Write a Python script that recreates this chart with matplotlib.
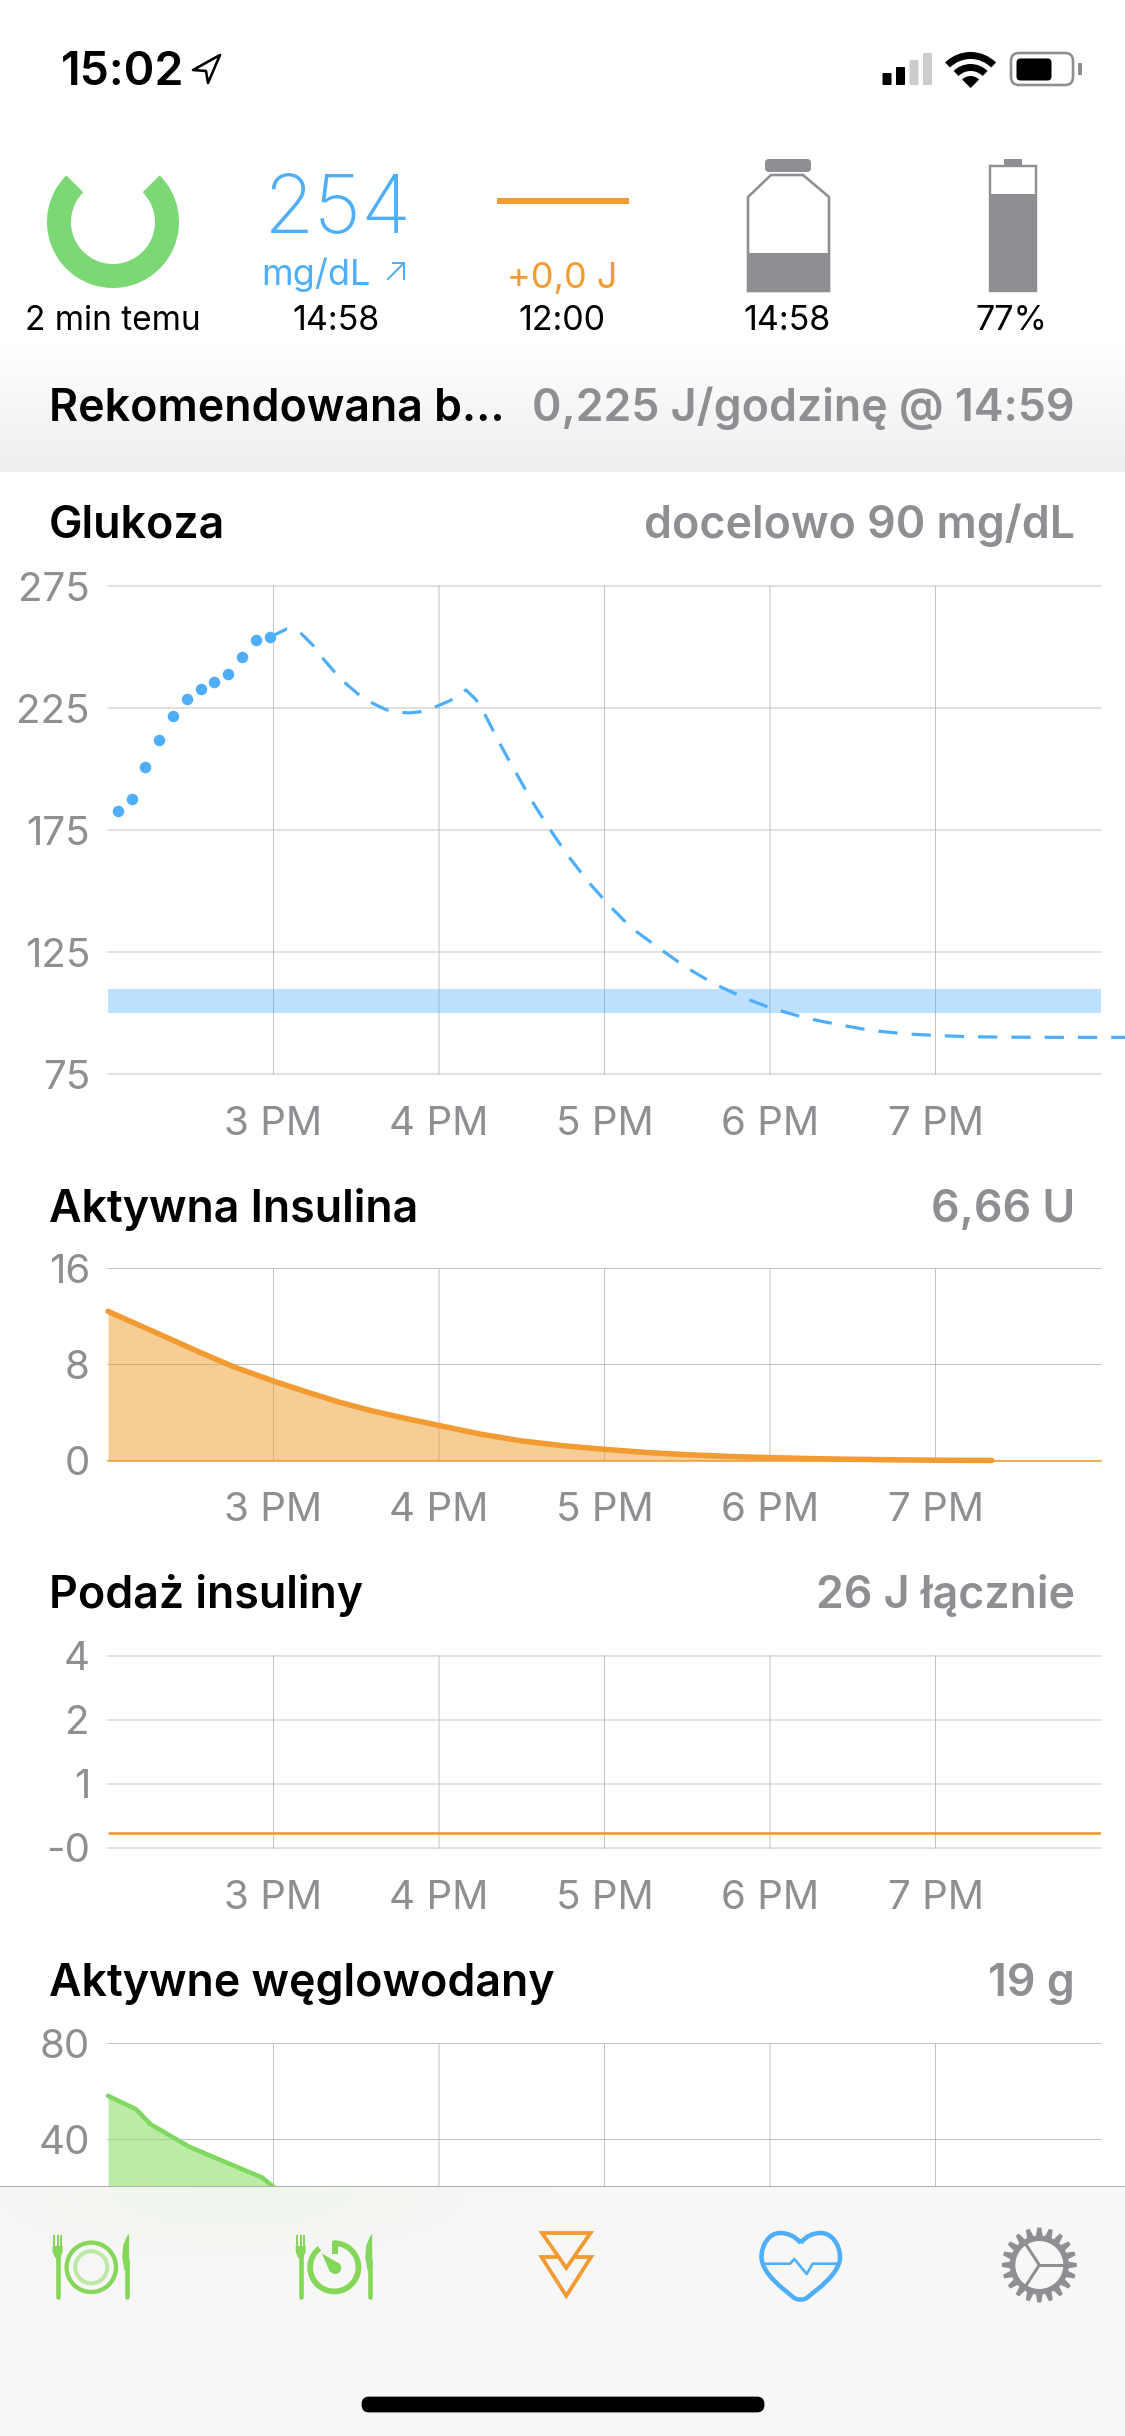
import numpy as np
import matplotlib
matplotlib.use("Agg")
import matplotlib.pyplot as plt
from matplotlib.patches import Wedge, Rectangle, FancyBboxPatch, Circle, Polygon, PathPatch
from matplotlib.path import Path

W, H = 1125, 2436
PX = 0.72  # one pixel in points at dpi 100

BLUE = "#4FAEFA"
ORANGE = "#F29B33"
GREEN = "#7FD860"
ICON_GREEN = "#85D75A"
GREY = "#8E8E93"
GRID = "#C2C2C4"
BAR = "#F7F7F7"
FONT = "Inter"

hour_ticks = [15, 16, 17, 18, 19]
hour_labels = ["3 PM", "4 PM", "5 PM", "6 PM", "7 PM"]

glucose_times = [14.059, 14.143, 14.225, 14.308, 14.393, 14.476, 14.56, 14.643, 14.725, 14.81, 14.892, 14.977]
glucose_values = [182.8, 187.7, 200.9, 211.8, 221.8, 228.7, 232.8, 235.8, 238.8, 245.8, 252.7, 254]

predicted_times = [14.977, 15.08, 15.16, 15.24, 15.29, 15.366, 15.42, 15.51, 15.58, 15.68, 15.764, 15.825, 15.88,
                   15.96, 16.066, 16.163, 16.224, 16.268, 16.32, 16.358, 16.413, 16.555, 16.663, 16.77, 16.9,
                   17.03, 17.16, 17.335, 17.486, 17.66, 17.855, 18.006, 18.224, 18.417, 18.614, 18.83, 19.0,
                   19.2, 19.414, 19.76, 20.145]
predicted_values = [254, 257.4, 256, 250.6, 246, 240, 236, 230.8, 227.6, 224.3, 223.2, 223, 223.4,
                    224.9, 228, 232.4, 228.4, 223.6, 216.7, 211.6, 204.8, 187.6, 176, 165.3, 153.9,
                    144, 135, 126.3, 119, 112, 105.9, 102, 97.8, 95.2, 92.8, 91.4, 90.8,
                    90.3, 90.1, 90, 90]
target_low, target_high = 100, 110

iob_times = [14.0, 14.153, 14.354, 14.556, 14.757, 15.0, 15.2, 15.4, 15.6, 15.8, 16.0, 16.25, 16.5, 16.75, 17.0,
             17.25, 17.5, 17.75, 18.0, 18.25, 18.5, 19.0, 19.34]
iob_values = [12.43, 11.49, 10.26, 9.01, 7.82, 6.62, 5.71, 4.85, 4.12, 3.5, 2.92, 2.2, 1.63, 1.23, 0.93,
              0.67, 0.48, 0.34, 0.24, 0.16, 0.1, 0.02, 0.0]

basal_times = [14.0, 20.0]
basal_values = [0.225, 0.225]
basal_ticks = [0, 0.93, 1.86, 2.79]
basal_labels = ["-0", "1", "2", "4"]

cob_times = [14.0, 14.17, 14.256, 14.49, 14.73, 14.93, 15.0, 15.03]
cob_values = [58.2, 52.6, 46.4, 37, 30, 24.2, 20.3, 19]

plt.rcParams["font.family"] = [FONT, "DejaVu Sans"]
fig = plt.figure(figsize=(W / 100, H / 100), dpi=100, facecolor="white")


def chart(top, bottom, ylim, yticks, ylabels):
    ax = fig.add_axes([108 / W, 1 - bottom / H, 993 / W, (bottom - top) / H])
    ax.set_xlim(14, 20)
    ax.set_ylim(*ylim)
    ax.set_xticks(hour_ticks)
    ax.set_xticklabels(hour_labels)
    ax.set_yticks(yticks)
    ax.set_yticklabels(ylabels)
    ax.tick_params(length=0, labelsize=29, labelcolor=GREY)
    ax.tick_params(axis="x", pad=23)
    ax.tick_params(axis="y", pad=13)
    for s in ax.spines.values():
        s.set_visible(False)
    ax.set_axisbelow(True)
    ax.grid(True, color=GRID, linewidth=1 * PX)
    for g in ax.get_xgridlines() + ax.get_ygridlines():
        g.set_snap(False)
        g.set_clip_on(False)
    return ax


# Glucose
ax1 = chart(586, 1074, (75, 275), [75, 125, 175, 225, 275], ["75", "125", "175", "225", "275"])
ax1.axhspan(target_low, target_high, color=BLUE, alpha=0.38, linewidth=0, zorder=1)
ax1.plot(predicted_times, predicted_values, color=BLUE, lw=3.2 * PX, linestyle=(0, (6, 4.4)), clip_on=False, zorder=2)
ax1.plot(glucose_times, glucose_values, "o", color=BLUE, ms=11.5 * PX, mew=0, zorder=3)

# Insulin on board
ax2 = chart(1268.5, 1460.5, (0, 16), [0, 8, 16], ["0", "8", "16"])
ax2.axhline(0, color=ORANGE, lw=1.5 * PX, clip_on=False, zorder=2)
ax2.fill_between(iob_times, iob_values, 0, color="#EE9F2C", alpha=0.5, linewidth=0, zorder=1)
ax2.plot(iob_times, iob_values, color=ORANGE, lw=5.5 * PX, solid_capstyle="round", clip_on=False, zorder=3)

# Insulin delivery
ax3 = chart(1656, 1848, (0, 2.79), basal_ticks, basal_labels)
ax3.plot(basal_times, basal_values, color=ORANGE, lw=2.6 * PX, solid_capstyle="butt", zorder=3)

# Carbs on board, the tab bar covers its lower part
ax4 = chart(2043.5, 2235.5, (0, 80), [0, 40, 80], ["0", "40", "80"])
ax4.fill_between(cob_times, cob_values, 0, color="#8BDD62", alpha=0.58, linewidth=0, zorder=1)
ax4.plot(cob_times, cob_values, color=GREEN, lw=4.5 * PX, solid_capstyle="round", clip_on=False, zorder=3)

# Everything around the charts, in pixel coordinates
ui = fig.add_axes([0, 0, 1, 1], zorder=10)
ui.patch.set_visible(False)
ui.axis("off")

grad = np.linspace(1, 0, 128).reshape(-1, 1) * 17 + 238
grad = np.dstack([grad, grad, grad + 1]).clip(0, 255).astype(np.uint8)
ui.imshow(grad, extent=(0, W, 472, 345), aspect="auto", zorder=0)
ui.set_xlim(0, W)
ui.set_ylim(H, 0)


def label(x, y, s, size, color="black", weight="normal", ha="center", **kw):
    ui.text(x, y, s, fontsize=size, color=color, fontweight=weight, ha=ha, va="baseline", **kw)


def title(y, left, right):
    label(49, y, left, 32.2, weight="semibold", ha="left")
    label(1075, y, right, 32.2, color=GREY, weight="semibold", ha="right")


title(420.7, "Rekomendowana b...", "0,225 J/godzinę @ 14:59")
title(537.7, "Glukoza", "docelowo 90 mg/dL")
title(1221.6, "Aktywna Insulina", "6,66 U")
title(1608, "Podaż insuliny", "26 J łącznie")
title(1996, "Aktywne węglowodany", "19 g")

# status bar
label(61, 85, "15:02", 33.5, weight="semibold", ha="left")
ui.add_patch(Polygon([(220, 55), (193, 70), (206, 71), (208, 83)], closed=True, fc="none", ec="black", lw=2.6 * PX, joinstyle="round"))
for x, h, c in zip([882.5, 896, 909.5, 923], [12, 18, 25, 32], ["black", "black", "#CCCCCC", "#CCCCCC"]):
    ui.add_patch(FancyBboxPatch((x + 1, 85 - h + 1), 7, h - 2, boxstyle="round,pad=1", fc=c, ec="none"))
for r0, r1 in [(0, 12), (17, 24), (29, 36)]:
    ui.add_patch(Wedge((970.6, 88), r1, 225, 315, width=r1 - r0, fc="black", ec="none"))
ui.add_patch(FancyBboxPatch((1013, 55), 58, 28, boxstyle="round,pad=2,rounding_size=8", fc="none", ec="#8E8E8E", lw=2.6 * PX))
ui.add_patch(FancyBboxPatch((1018, 60), 32, 19, boxstyle="round,pad=1.5,rounding_size=4", fc="black", ec="none"))
ui.add_patch(Rectangle((1077.5, 63), 4, 12, fc="#8E8E8E", ec="none"))

# loop ring
ui.add_patch(Wedge((113, 222), 66, 315, 585, width=24, fc="#7BD875", ec="none"))
label(112.5, 330, "2 min temu", 24)

# glucose readout
label(338, 233, "254", 59, color=BLUE, weight="light")
label(316, 285, "mg/dL", 26, color=BLUE)
ui.plot([388, 404, 404], [279, 263, 279], color=BLUE, lw=2 * PX)
ui.plot([393, 404], [263, 263], color=BLUE, lw=2 * PX)
label(336.5, 330, "14:58", 24.5)

# IOB readout
ui.add_patch(Rectangle((497, 198), 132, 6, fc=ORANGE, ec="none"))
label(562, 288, "+0,0 J", 26, color=ORANGE)
label(562, 330, "12:00", 24.5)

# reservoir
ui.add_patch(FancyBboxPatch((766, 160), 44, 11, boxstyle="round,pad=1,rounding_size=4", fc=GREY, ec="none"))
ui.add_patch(Polygon([(748, 291), (748, 197), (771, 175), (803, 175), (829, 197), (829, 291)], closed=True, fc="white", ec=GREY, lw=2.6 * PX))
ui.add_patch(Rectangle((747, 253), 83, 38, fc=GREY, ec="none"))
label(787, 330, "14:58", 24.5)

# phone battery
ui.add_patch(Rectangle((1004, 159), 17.5, 7, fc=GREY, ec="none"))
ui.add_patch(Rectangle((990, 166), 46, 125, fc="white", ec=GREY, lw=2.4 * PX))
ui.add_patch(Rectangle((989, 194), 48, 97, fc=GREY, ec="none"))
label(1011.5, 330, "77%", 24.5)

# tab bar
ui.add_patch(Rectangle((0, 2186.5), W, H - 2186.5, fc=BAR, ec="none", zorder=1))
ui.plot([0, W], [2186.3, 2186.3], color="#B0B0B0", lw=1 * PX, zorder=2)
yy, xx = np.mgrid[2187:2436:4, 0:W:4]
glow = np.zeros(xx.shape + (4,))
glow[..., :3] = matplotlib.colors.to_rgb("#8BDD62")
glow[..., 3] = 0.07 * np.exp(-((xx - 230) / 190.0) ** 2 - ((yy - 2187) / 55.0) ** 2)
ui.imshow(glow, extent=(0, W, 2436, 2187), aspect="auto", zorder=1.5)
ui.set_xlim(0, W)
ui.set_ylim(H, 0)
ui.add_patch(FancyBboxPatch((369, 2404), 388, 1, boxstyle="round,pad=7.4,rounding_size=7.4", fc="black", ec="none", zorder=3))


def cutlery(fx, kx):
    # fx is the fork stem centre, kx the knife stem centre
    for dx in (-3.6, 0, 3.6):
        ui.plot([fx + dx, fx + dx], [2234.5, 2250], color=ICON_GREEN, lw=2 * PX, solid_capstyle="butt", zorder=3)
    ui.add_patch(Polygon([(fx - 5, 2246), (fx + 5, 2246), (fx + 5, 2252), (fx + 2.4, 2258), (fx - 2.4, 2258), (fx - 5, 2252)], fc=ICON_GREEN, ec="none", zorder=3))
    ui.plot([fx, fx], [2255, 2297], color=ICON_GREEN, lw=4.6 * PX, solid_capstyle="round", zorder=3)
    ui.plot([kx, kx], [2260, 2297], color=ICON_GREEN, lw=4.6 * PX, solid_capstyle="round", zorder=3)
    ui.add_patch(Polygon([(kx + 2.4, 2234), (kx + 2.4, 2270), (kx - 2.4, 2270), (kx - 4.5, 2257), (kx - 3.5, 2245), (kx + 0.5, 2236)], fc=ICON_GREEN, ec="none", zorder=3))


cutlery(57.6, 126.7)
ui.add_patch(Circle((91.3, 2267.3), 24.7, fc="none", ec=ICON_GREEN, lw=4.3 * PX, zorder=3))
ui.add_patch(Circle((91.3, 2267.3), 16, fc="none", ec="#BDE8A5", lw=4 * PX, zorder=3))

cutlery(300.7, 369.8)
ui.add_patch(Wedge((334.3, 2267.3), 27, 268, 592, width=5.7, fc=ICON_GREEN, ec="none", zorder=3))
ui.add_patch(Rectangle((331.7, 2240.5), 6, 13, fc=ICON_GREEN, ec="none", zorder=3))
ui.add_patch(Polygon([(321.7, 2253.3), (340, 2264), (330, 2272)], fc=ICON_GREEN, ec="none", zorder=3))
ui.add_patch(Circle((335.2, 2268), 6, fc=ICON_GREEN, ec="none", zorder=3))

ui.add_patch(Polygon([(542, 2233), (590.5, 2233), (566.3, 2268)], closed=True, fc="none", ec=ORANGE, lw=3.8 * PX, joinstyle="miter", zorder=3))
ui.plot([558, 541.5, 566.3, 591, 575], [2257, 2257, 2296, 2257, 2257], color=ORANGE, lw=3.8 * PX,
        solid_joinstyle="miter", solid_capstyle="butt", zorder=3)

heart = Path([(800.7, 2243), (795, 2236), (788, 2233), (780, 2233), (769, 2233), (761.5, 2245), (761.5, 2257),
              (761.5, 2274), (785, 2290), (793, 2297), (797, 2300.5), (804, 2300.5), (808, 2297),
              (816, 2290), (840, 2274), (840, 2257), (840, 2245), (832, 2233), (821, 2233),
              (813, 2233), (806, 2236), (800.7, 2243)],
             [Path.MOVETO] + [Path.CURVE4] * 21)
ui.add_patch(PathPatch(heart, fc="none", ec=BLUE, lw=4.5 * PX, zorder=3))
ui.plot([763, 790, 794.3, 806.7, 812.7, 838], [2263.7, 2263.7, 2259, 2274, 2263.7, 2263.7], color=BLUE, lw=2.6 * PX, zorder=3)

cx, cy = 1039.3, 2265
gear = []
for a in np.arange(0, 360, 18):
    gear += [(a - 6.5, 29.5), (a - 3, 37.5), (a + 3, 37.5), (a + 6.5, 29.5)]
gear = [(cx + r * np.cos(np.deg2rad(a)), cy + r * np.sin(np.deg2rad(a))) for a, r in gear]
ui.add_patch(Polygon(gear, closed=True, fc=GREY, ec="none", zorder=3))
ui.add_patch(Circle((cx, cy), 24, fc=BAR, ec="none", zorder=3.1))
for a in np.deg2rad([0, 123, 237]):
    ui.plot([cx, cx + 25 * np.cos(a)], [cy, cy + 25 * np.sin(a)], color=GREY, lw=3 * PX, zorder=3.2)

fig.savefig("out.png", dpi=100, facecolor="white")
